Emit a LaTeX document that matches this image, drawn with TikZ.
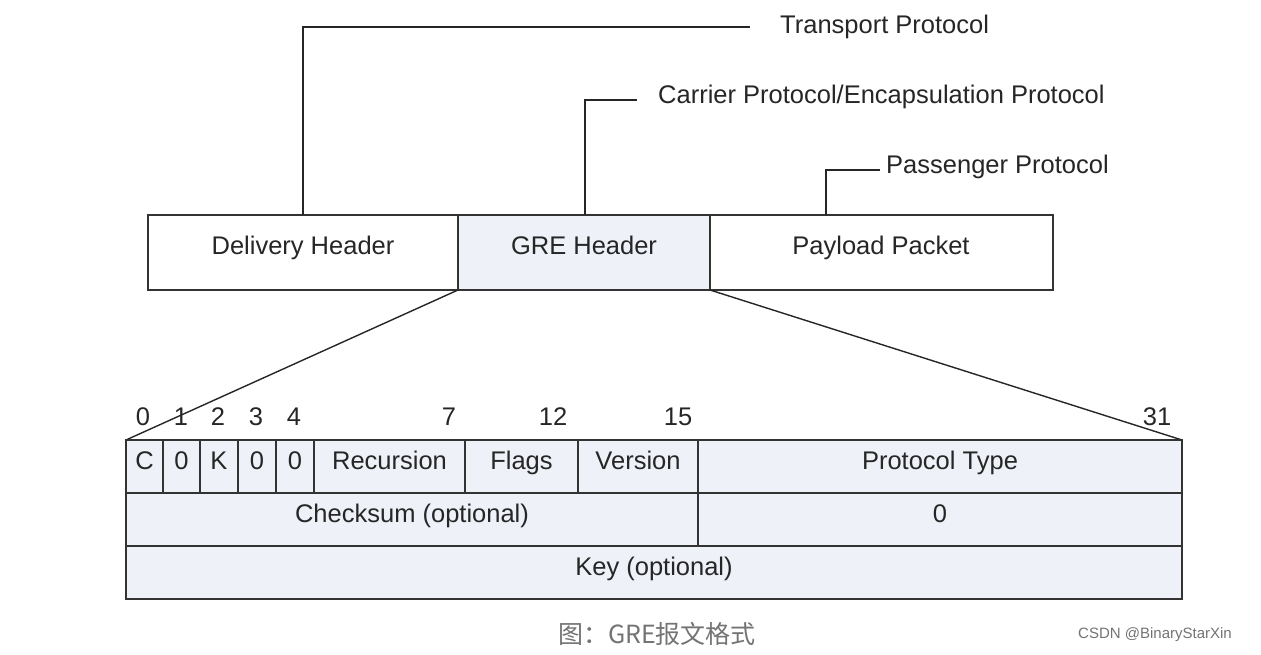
\documentclass[tikz,border=0pt]{standalone}
\usepackage{fontspec}
\setmainfont{Liberation Sans}
\newfontfamily\cjk{Noto Sans CJK SC}
\begin{document}
\begin{tikzpicture}[x=1pt,y=-1pt,
  box/.style={draw=black!80,line width=1.4pt},
  lbl/.style={font=\fontsize{25.5}{28}\selectfont,text=black!85,inner sep=0,anchor=mid},
  ln/.style={draw=black!85,line width=1.4pt}]
\useasboundingbox (0,0) rectangle (1261,655);
\definecolor{gfill}{HTML}{EEF1F7}
% top boxes
\draw[box] (148,215) rectangle (458,290);
\draw[box,fill=gfill] (458,215) rectangle (710,290);
\draw[box] (710,215) rectangle (1053,290);
\node[lbl] (dh) at (303,252) {Delivery Header};
\node[lbl] (gh) at (584,252) {GRE Header};
\node[lbl] (pp) at (881,252) {Payload Packet};
% callouts
\coordinate (t0) at (303,215); \coordinate (t1) at (303,27); \coordinate (t2) at (750,27);
\draw[ln] (t0) -- (t1) -- (t2);
\node[lbl,anchor=mid west] (tp) at (780,31) {Transport Protocol};
\coordinate (c0) at (585,215); \coordinate (c1) at (585,100); \coordinate (c2) at (637,100);
\draw[ln] (c0) -- (c1) -- (c2);
\node[lbl,anchor=mid west] (cp) at (658,101) {Carrier Protocol/Encapsulation Protocol};
\coordinate (p0) at (826,215); \coordinate (p1) at (826,170); \coordinate (p2) at (880,170);
\draw[ln] (p0) -- (p1) -- (p2);
\node[lbl,anchor=mid west] (ps) at (886,171) {Passenger Protocol};
% expansion
\coordinate (e1) at (458,290); \coordinate (e2) at (710,290);
\coordinate (f1) at (126,440); \coordinate (f2) at (1182,440);
\draw[ln] (e1) -- (f1); \draw[ln] (e2) -- (f2);
% table
\draw[box,fill=gfill] (126,440) rectangle (1182,599);
\draw[box] (126,493) -- (1182,493);
\draw[box] (126,546) -- (1182,546);
\foreach \x in {163,200,238,276,314,465,578} \draw[box] (\x,440) -- (\x,493);
\draw[box] (698,440) -- (698,546);
\foreach \a/\b/\t/\n in {126/163/C/r1,163/200/0/r2,200/238/K/r3,238/276/0/r4,276/314/0/r5,314/465/Recursion/r6,465/578/Flags/r7,578/698/Version/r8,698/1182/Protocol Type/r9}
  \node[lbl] (\n) at ({(\a+\b)/2},467) {\t};
\node[lbl] (ck) at (412,520) {Checksum (optional)};
\node[lbl] (z) at (940,520) {0};
\node[lbl] (key) at (654,573) {Key (optional)};
\foreach \x/\t/\n in {143/0/b0,181/1/b1,218/2/b2,256/3/b3,294/4/b4,449/7/b7,553/12/b12,678/15/b15,1157/31/b31}
  \node[lbl] (\n) at (\x,423) {\t};
% caption
\node[inner sep=0,text=black!55,font=\cjk\fontsize{25}{28}\selectfont] (cap) at (657,634) {图：GRE报文格式};
\node[inner sep=0,text=black!55,font=\fontsize{15}{17}\selectfont] (wm) at (1155,635) {CSDN @BinaryStarXin};
\end{tikzpicture}
\end{document}
